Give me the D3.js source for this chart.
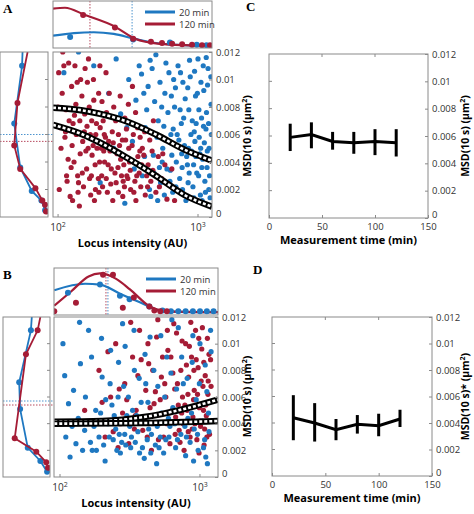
<!DOCTYPE html>
<html><head><meta charset="utf-8">
<script src="https://cdn.jsdelivr.net/npm/d3@7"></script>
<style>body{margin:0;background:#fff}svg{display:block}text{font-family:"Open Sans",sans-serif}</style>
</head><body><svg id="c" width="474" height="514"></svg>
<script>
// ---------- DATA ----------
// scatter points "intensity(AU) MSD(x1e-3 um^2)"
const scatterA_red = "100 8,105 5,110 11,115 3,120 7,125 9.5,130 4,135 6,140 2.5,145 10,150 5.5,155 7.5,160 3.5,165 11.5,170 6,175 4.5,180 8.5,185 2,190 5,195 9,200 6.5,205 3,210 7,215 4,220 10.5,225 1.8,230 5.5,240 3.5,250 8,260 2.5,270 6,280 4.2,290 1.5,300 7.2,310 3,320 5,330 2,340 9.5,350 4,360 1.2,370 6.5,380 3.2,390 2.2,400 5,420 1.6,440 3.8,460 2.6,480 7,500 1.8,520 4.4,550 2.8,600 1.3,650 3.5,700 2,112 5.8,118 4.2,128 6.8,138 3,148 8.8,158 4.8,168 2.8,178 5.2,188 6.8,198 4,208 2.2,218 5.8,235 4.8,255 3.2,275 5.2,295 3.8,315 2.8,345 6,365 3,410 4.5,108 12,132 11,162 9.8,102 2,122 1.5,142 0.8,182 1.2,104 6.5,114 7.8,124 3.6,134 8.2,144 4.6,154 6.2,164 5,174 7,184 3.8,194 2.8,204 5,214 6,228 3.8,244 6.2,264 4.6,284 3,304 5.6,324 4,354 2.6,384 4.8,430 3,470 4.8,530 2.2,580 3.8,101 10.5,107 9,113 6.2,119 11.2,126 5.2,131 7.4,137 9.8,143 7,149 3.2,156 10.8,161 6.6,167 8,173 3,179 10,186 6,192 7.6,199 11,206 8.4,212 4.8,222 7.6,232 9,238 2.4,248 5.4,258 7,268 3.6,278 8.8,288 5.6,298 2.2,308 6.4,318 8.2,328 3.4,338 5.2,348 1.8,358 7.6,372 4.4,386 5.8,396 3.8,416 6.2,436 2.2,452 5.6,476 3.4,510 3,560 4.6,620 2.4,680 1.2,116 2.6,127 1.2,139 1.8,152 2.2,171 1.6,196 1.8,221 2.8,246 1.2,270 1.8,292 2.6";
const scatterA_blue = "110 10.5,140 12,180 11,200 2.5,230 9,260 11.5,280 7.5,300 1,320 10,340 5.5,360 8.5,380 11,400 3,420 6.5,440 9.5,460 1.5,480 4.5,500 11.8,520 7,540 2.5,560 5,580 9,600 3.5,620 10.5,640 6,660 1.8,680 8,700 4,720 11,740 2.8,760 6.8,780 9.8,800 5.2,820 1.2,840 3.8,860 7.8,880 10.2,900 4.8,920 2.2,940 6.2,960 8.8,980 3.2,1000 11.5,1020 5.8,1040 1.6,1060 7.2,1080 4.2,1100 9.2,1120 2.6,1140 6.4,1160 3.6,1180 10.8,1200 5,1220 1.4,1240 8.2,350 3.5,450 2,550 8,650 4.5,750 10.5,850 2.5,950 5.5,1050 9.8,1150 7.6,250 5,310 6.5,410 9,510 5.8,610 7.6,710 6,810 8.6,910 7,1010 3,1110 5.4,1210 3,470 10.8,590 11.2,690 9.4,790 7.2,890 6,990 9,1090 11,1190 6.8,530 3.6,630 2.6,730 5.6,830 4.4,930 3.8,1030 4.6,1130 1.8,1230 4.2,430 7.8,490 8.4,570 6.6,670 10,770 3.6,870 11.4,970 6.8,1070 1.2,1170 9.6,395 10.4,455 11.4,535 9.8,645 8.8,745 7.8,845 9.4,945 10.6,1045 5,1145 11.6,1245 6,515 1.2,575 1.6,635 3.4,695 2.2,775 2,855 5,935 1.4,1015 7.8,1095 6.6,1195 2,415 4.4,485 3.2,555 4,665 6.4,765 4.6,865 3.2,965 4.4,1065 3.6,1165 4.8,1235 10.2";
const scatterB_blue = "105 10,110 3,118 1.5,125 6.5,130 2.5,140 8.5,150 3.5,160 11,170 2,180 5,190 3,200 7.5,210 1.2,220 4,230 9.5,240 2.8,250 3.6,260 6,270 1.8,280 11.5,290 3.2,300 4.6,320 2.2,340 8,360 3.4,380 5.6,400 1.4,420 2.8,440 10.5,460 4,480 2.4,500 6.8,520 3,550 1.8,580 9,610 3.8,640 5.2,670 2.2,700 11.2,730 3.2,760 7,790 1.6,820 4.4,850 2.6,880 8.6,910 3.6,940 5.8,970 2,1000 10,1040 4.2,1080 2.8,1120 6.4,1160 3.4,1200 9.4,135 4.4,165 2.6,195 4.8,225 3,255 2,285 6.8,315 3.8,345 2.6,375 4.2,410 7,450 3.2,490 1,530 4.8,570 2.8,620 7.8,660 4,720 5,800 3,900 1.2,1100 1.5,115 5.5,145 2,175 3.8,205 2.4,235 5.4,265 3.2,295 2.4,330 5,370 1.8,430 3.6,510 2.2,600 3,690 2.8,780 3.8,870 4.8,960 3.2,1060 2.2,1150 4.8,108 7.6,122 3.8,138 11.6,152 6,168 9,182 2,198 10.4,212 5.8,228 7,244 4.6,262 8.6,276 2.6,292 9.8,308 6,324 3,338 11,352 4.6,368 7.4,388 2.2,405 9.2,425 5.6,445 1.8,468 8,495 3.8,525 10.6,560 6,595 4.4,630 11.8,680 6.6,740 9,810 7.4,890 10.6,990 7,1090 8.4,1190 11,1130 1";
const scatterB_red = "150 5,190 8,210 3,230 6,250 10,270 4,290 7,310 2.5,330 9,350 5,370 11,390 3.5,410 6.5,430 8.5,450 2,470 5.5,490 10.5,510 4,530 7.5,550 3,570 6,590 9.5,610 2.5,630 5,650 11.5,670 4.5,690 7,710 3.5,730 8,750 6,770 2,790 10,810 5,830 7.5,850 3,870 9,890 4.5,910 6.5,930 11,950 2.8,970 8.2,990 5.2,1010 3.8,1030 9.6,1050 6.8,1070 2.4,1090 7.6,1110 4.6,1130 10.4,1150 5.6,1170 3.2,1190 8.8,280 4.8,340 3.6,400 4.4,460 8,520 5.8,580 4,640 7.8,700 5.4,760 4,820 6.2,880 3.6,940 8.8,1000 4.2,1060 5,1120 3,240 3.4,300 5.8,360 7.6,420 3,480 6.4,540 9,600 4.8,660 6.6,720 2.6,780 5.4,840 9.8,900 5.8,960 6.2,1020 7.2,1080 3.6,1140 6.2,200 5.6,220 9.4,260 2.2,320 11.6,380 8.8,440 5.2,500 11.8,560 7,620 9,680 10.8,740 4.8,800 8.4,860 11.6,920 4,980 10.4,1040 11.2,1100 5.4,1160 9.2,1200 6.8,265 6.6,345 4.6,425 10,505 2.8,585 11,665 3.2,745 10.2,825 3.4,905 8,985 1.8,1065 8.6,1145 7.2";
// fit curves (AU, MSD x1e-3)
const fitA_upper = [[92,7.95],[150,7.75],[200,7.5],[300,7.0],[500,6.0],[800,4.9],[1260,4.1]];
const fitA_lower = [[92,6.7],[150,6.0],[200,5.4],[300,4.4],[500,3.0],[800,1.6],[1260,0.75]];
const fitB_upper = [[91,4.15],[200,4.2],[400,4.5],[700,5.0],[1345,5.8]];
const fitB_lower = [[91,4.0],[400,4.05],[1345,4.2]];
// top marginals (AU, relative density)
const topA_redCurve = [[92,.87],[112,.89],[156,.72],[255,.45],[355,.17],[534,.05],[800,.02],[1260,.01]];
const topA_blueCurve = [[92,.24],[130,.30],[180,.32],[250,.28],[350,.17],[500,.07],[800,.02],[1260,.01]];
const topA_redPts = [[151,.72],[255,.43],[344,.17],[461,.1],[553,.07],[653,.05],[770,.04],[906,.03],[1068,.02],[1219,.02]];
const topA_bluePts = [[122,.21],[344,.15],[630,.08],[980,.03],[1150,.02]];
const topB_blueCurve = [[91,.53],[151,.68],[193,.66],[268,.45],[372,.25],[518,.06],[800,.02],[1345,.02]];
const topB_redCurve = [[91,.17],[120,.5],[160,.85],[193,.92],[250,.8],[316,.55],[439,.15],[610,.03],[1345,.02]];
const topB_bluePts = [[114,.47],[193,.66],[268,.4],[314,.32],[434,.15],[540,.06],[620,.04],[700,.04],[790,.04],[890,.04],[1000,.04],[1120,.04],[1250,.04]];
const topB_redPts = [[91,.04],[130,.24],[203,.89],[239,.89],[281,.12],[337,.36],[435,.15],[472,.06],[520,.04],[580,.04]];
// left marginals (MSD x1e-3, relative density)
const leftA_blue = [[12,.49],[11.0,.48],[6.8,.31],[3.6,.44],[1.9,.69],[1.2,.9],[0.5,.98]];
const leftA_red = [[12,.6],[8.3,.38],[5.2,.31],[3.5,.44],[2.1,.77],[1.2,.92],[0.9,.98],[0.4,1.0]];
const leftB_blue = [[12,.64],[11.0,.62],[7.1,.36],[5.1,.38],[2.2,.55],[1.2,.83],[0.4,.98]];
const leftB_red = [[12,.83],[11.0,.77],[9.2,.51],[2.9,.26],[1.9,.74],[1.1,.96],[0.7,1.0]];
const leftA_dotted = {blue:6.0, red:5.5}, topA_dotted = {red:169, blue:338};
const leftB_dotted = {blue:5.7, red:5.4}, topB_dotted = {red:213, blue:220};
// time series
const times = [20,40,60,80,100,120];
const C_mean = [5.9,6.1,5.6,5.5,5.6,5.5];
const C_lo = [4.9,5.1,5.0,4.7,4.6,4.5];
const C_hi = [6.9,7.0,6.3,6.3,6.5,6.5];
const D_mean = [4.4,4.0,3.5,3.9,3.8,4.3];
const D_lo = [2.7,2.6,2.7,3.2,3.0,3.7];
const D_hi = [6.1,5.5,4.3,4.6,4.7,5.0];
const msdTicks = [0,2,4,6,8,10,12];
const msdTickLabels = ["0","0.002","0.004","0.006","0.008","0.01","0.012"];
const timeTicks = [0,50,100,150];

// ---------- DRAW ----------
const svg = d3.select("#c");
const BLUE = "#1f78c1", RED = "#a51c36", FRAME = "#8a8a8a";
const parse = s => s.split(",").map(p => p.trim().split(" ").map(Number));

function frame(x0,y0,x1,y1){
  svg.append("rect").attr("x",x0).attr("y",y0).attr("width",x1-x0).attr("height",y1-y0)
    .attr("fill","none").attr("stroke",FRAME).attr("stroke-width",1);
}
function rightMsdAxis(x, y){
  const g = svg.append("g").attr("transform",`translate(${x},0)`);
  g.call(d3.axisRight(y).tickValues(msdTicks).tickSize(-3).tickPadding(2).tickFormat((d,i)=>msdTickLabels[i]));
  g.select(".domain").remove();
  g.selectAll("line").attr("stroke",FRAME);
  g.selectAll("text").attr("font-size",9.5).attr("fill","#333").attr("dx",2);
  g.selectAll("text").filter(d=>d===0).attr("dy","-0.1em");
}
function panelLetter(t,x,y){
  svg.append("text").attr("x",x).attr("y",y).text(t)
    .attr("font-weight","bold").attr("font-size",13).style("font-family","'Liberation Serif',serif");
}
function clip(id,x0,y0,x1,y1){
  svg.append("clipPath").attr("id",id).append("rect").attr("x",x0).attr("y",y0).attr("width",x1-x0).attr("height",y1-y0);
}
function fitLine(g,x,y,data){
  const l = d3.line().x(d=>x(d[0])).y(d=>y(d[1])).curve(d3.curveMonotoneX);
  g.append("path").attr("d",l(data)).attr("fill","none").attr("stroke","#000").attr("stroke-width",6.5);
  g.append("path").attr("d",l(data)).attr("fill","none").attr("stroke","#fff").attr("stroke-width",2.6).attr("stroke-dasharray","3,2");
}

function scatterPanel(o){
  const x = d3.scaleLog().domain(o.xdom).range([o.sx0,o.sx1]);
  const y = d3.scaleLinear().domain([0,12]).range([o.sy1,o.sy0]);
  const cid = "clip"+o.id;
  clip(cid,o.sx0,o.sy0,o.sx1,o.sy1);
  const g = svg.append("g").attr("clip-path",`url(#${cid})`);
  o.order.forEach(([pts,col])=>{
    g.selectAll(null).data(parse(pts)).enter().append("circle")
      .attr("cx",d=>x(d[0])).attr("cy",d=>y(d[1])).attr("r",2.6).attr("fill",col);
  });
  [[o.leftDot.blue,BLUE],[o.leftDot.red,RED]].forEach(([v,c])=>{
    svg.append("line").attr("x1",o.lx0).attr("x2",o.sx0).attr("y1",y(v)).attr("y2",y(v))
      .attr("stroke",c).attr("stroke-width",0.8).attr("stroke-dasharray","1.5,1.5");
  });
  fitLine(g,x,y,o.fitU); fitLine(g,x,y,o.fitL);
  frame(o.sx0,o.sy0,o.sx1,o.sy1);
  rightMsdAxis(o.sx1,y);
  [100,1000].forEach((v,i)=>{
    const t = svg.append("text").attr("x",x(v)).attr("y",o.sy1+14).attr("text-anchor","middle").attr("font-size",10).attr("fill","#333");
    t.append("tspan").text("10");
    t.append("tspan").text(i?"3":"2").attr("font-size",7).attr("dy",-4);
  });
  [100,1000].forEach(v=>svg.append("line").attr("x1",x(v)).attr("x2",x(v)).attr("y1",o.sy1).attr("y2",o.sy1-3).attr("stroke",FRAME));
  svg.append("text").attr("x",(o.sx0+o.sx1)/2).attr("y",o.sy1+30).attr("text-anchor","middle")
    .attr("font-size",11).attr("font-weight","bold").text("Locus intensity (AU)");

  const ty = d3.scaleLinear().domain([0,1]).range([o.ty1-2,o.ty0+2]);
  const tcid = "tclip"+o.id; clip(tcid,o.sx0,o.ty0,o.sx1,o.ty1);
  const tg = svg.append("g").attr("clip-path",`url(#${tcid})`);
  [[o.topDot.red,RED],[o.topDot.blue,BLUE]].forEach(([v,c])=>{
    tg.append("line").attr("x1",x(v)).attr("x2",x(v)).attr("y1",o.ty0).attr("y2",o.ty1)
      .attr("stroke",c).attr("stroke-width",0.8).attr("stroke-dasharray","1.5,1.5");
  });
  const tl = d3.line().x(d=>x(d[0])).y(d=>ty(d[1])).curve(d3.curveMonotoneX);
  o.topCurves.forEach(([data,c])=>tg.append("path").attr("d",tl(data)).attr("fill","none").attr("stroke",c).attr("stroke-width",2.2));
  o.topPts.forEach(([data,c])=>tg.selectAll(null).data(data).enter().append("circle")
      .attr("cx",d=>x(d[0])).attr("cy",d=>ty(d[1])).attr("r",3).attr("fill",c));
  frame(o.sx0,o.ty0,o.sx1,o.ty1);
  [["20 min",BLUE],["120 min",RED]].forEach(([t,c],i)=>{
    const ly = o.ty0 + 11 + i*12;
    svg.append("line").attr("x1",o.sx0+92).attr("x2",o.sx0+122).attr("y1",ly).attr("y2",ly).attr("stroke",c).attr("stroke-width",3);
    svg.append("text").attr("x",o.sx0+126).attr("y",ly+3.5).attr("font-size",9.5).attr("fill","#333").text(t);
  });

  const lx = d3.scaleLinear().domain([0,1]).range([o.lx0,o.lx1-2]);
  const lcid = "lclip"+o.id; clip(lcid,o.lx0,o.sy0,o.lx1,o.sy1);
  const lg = svg.append("g").attr("clip-path",`url(#${lcid})`);
  const ll = d3.line().x(d=>lx(d[1])).y(d=>y(d[0]));
  o.leftCurves.forEach(([data,c])=>{
    lg.append("path").attr("d",ll(data)).attr("fill","none").attr("stroke",c).attr("stroke-width",1.8);
    lg.selectAll(null).data(data.slice(1)).enter().append("circle")
      .attr("cx",d=>lx(d[1])).attr("cy",d=>y(d[0])).attr("r",3).attr("fill",c);
  });
  frame(o.lx0,o.sy0,o.lx1,o.sy1);
  msdTicks.slice(1,-1).forEach(v=>svg.append("line").attr("x1",o.lx1).attr("x2",o.lx1-3).attr("y1",y(v)).attr("y2",y(v)).attr("stroke",FRAME));
}

scatterPanel({id:"A", xdom:[92,1259], sx0:53, sx1:212, sy0:52, sy1:217, ty0:1, ty1:48, lx0:0, lx1:48,
  order:[[scatterA_blue,BLUE],[scatterA_red,RED]], fitU:fitA_upper, fitL:fitA_lower,
  leftDot:leftA_dotted, topDot:topA_dotted,
  topCurves:[[topA_blueCurve,BLUE],[topA_redCurve,RED]], topPts:[[topA_bluePts,BLUE],[topA_redPts,RED]],
  leftCurves:[[leftA_blue,BLUE],[leftA_red,RED]]});
scatterPanel({id:"B", xdom:[90.6,1345], sx0:54, sx1:218, sy0:317, sy1:477, ty0:268, ty1:315, lx0:3, lx1:50,
  order:[[scatterB_red,RED],[scatterB_blue,BLUE]], fitU:fitB_upper, fitL:fitB_lower,
  leftDot:leftB_dotted, topDot:topB_dotted,
  topCurves:[[topB_blueCurve,BLUE],[topB_redCurve,RED]], topPts:[[topB_bluePts,BLUE],[topB_redPts,RED]],
  leftCurves:[[leftB_blue,BLUE],[leftB_red,RED]]});

function timePanel(o){
  const x = d3.scaleLinear().domain([0,150]).range([o.x0,o.x1]);
  const y = d3.scaleLinear().domain([0,12]).range([o.y1,o.y0]);
  frame(o.x0,o.y0,o.x1,o.y1);
  rightMsdAxis(o.x1,y);
  msdTicks.slice(1,-1).forEach(v=>svg.append("line").attr("x1",o.x0).attr("x2",o.x0+3).attr("y1",y(v)).attr("y2",y(v)).attr("stroke",FRAME));
  const gx = svg.append("g").attr("transform",`translate(0,${o.y1})`)
    .call(d3.axisBottom(x).tickValues(timeTicks).tickSize(-3).tickPadding(5));
  gx.select(".domain").remove(); gx.selectAll("line").attr("stroke",FRAME);
  gx.selectAll("text").attr("font-size",9.5).attr("fill","#333");
  timeTicks.slice(1,-1).forEach(v=>svg.append("line").attr("x1",x(v)).attr("x2",x(v)).attr("y1",o.y0).attr("y2",o.y0+3).attr("stroke",FRAME));
  svg.append("path").attr("d",d3.line().x((d,i)=>x(times[i])).y(d=>y(d))(o.mean))
    .attr("fill","none").attr("stroke","#000").attr("stroke-width",3);
  svg.selectAll(null).data(times).enter().append("line")
    .attr("x1",d=>x(d)).attr("x2",d=>x(d)).attr("y1",(d,i)=>y(o.lo[i])).attr("y2",(d,i)=>y(o.hi[i]))
    .attr("stroke","#000").attr("stroke-width",3);
  svg.append("text").attr("x",(o.x0+o.x1)/2).attr("y",o.y1+26).attr("text-anchor","middle")
    .attr("font-size",11).attr("font-weight","bold").text("Measurement time (min)");
  const cy = (o.y0+o.y1)/2;
  [[251,o.leftLab],[469,o.rightLab]].forEach(([lx,lab])=>{
    const t = svg.append("text").attr("transform",`translate(${lx},${cy}) rotate(-90)`).attr("text-anchor","middle")
      .attr("font-size",10.5).attr("font-weight","bold");
    t.append("tspan").text(lab+" (\u03bcm");
    t.append("tspan").text("2").attr("font-size",7).attr("dy",-4);
    t.append("tspan").text(")").attr("dy",4);
  });
}
timePanel({x0:269,x1:428,y0:54,y1:218,mean:C_mean,lo:C_lo,hi:C_hi,leftLab:"MSD(10 s)",rightLab:"MSD(10 s)"});
timePanel({x0:272,x1:432,y0:317,y1:476,mean:D_mean,lo:D_lo,hi:D_hi,leftLab:"MSD(10 s)",rightLab:"MSD(10 s)*"});

panelLetter("A",3,13); panelLetter("B",3,279); panelLetter("C",246,11); panelLetter("D",253,274);
</script></body></html>
